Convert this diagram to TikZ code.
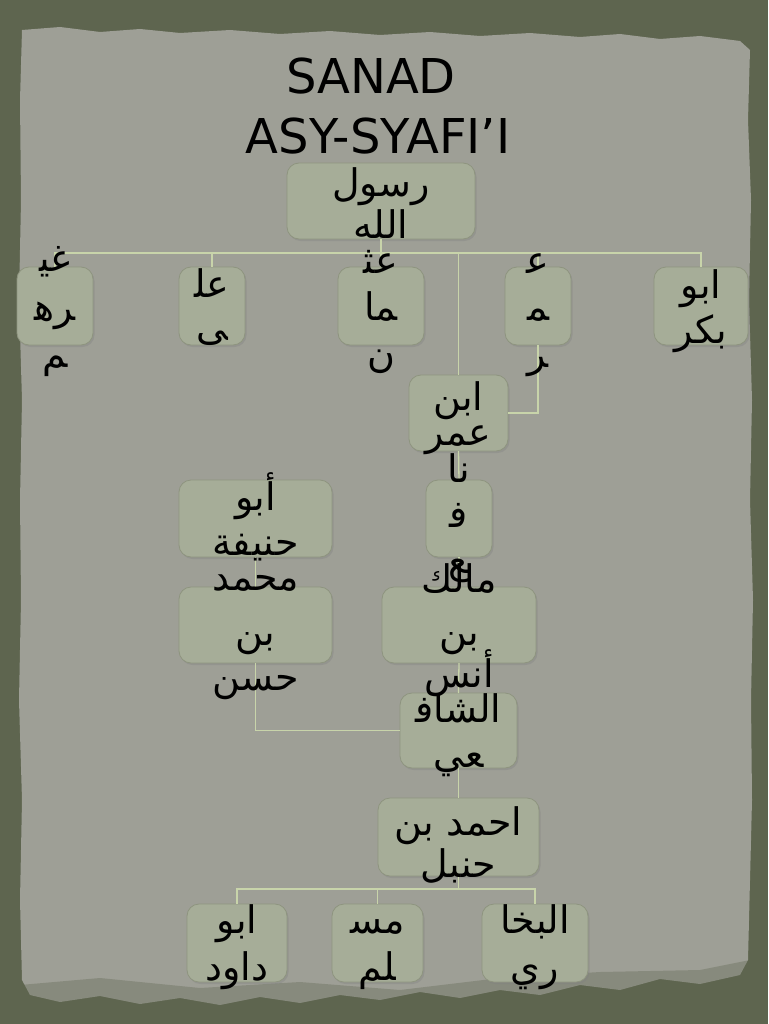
\documentclass[tikz,border=0pt]{standalone}
\usepackage{fontspec}
\setmainfont{DejaVu Sans}
\newfontfamily\arabicfont[Script=Arabic]{DejaVu Sans}
\TeXXeTstate=1
\usetikzlibrary{shadows}
\definecolor{bordergreen}{HTML}{5E654F}
\definecolor{paper}{HTML}{9E9F96}
\definecolor{boxfill}{HTML}{A6AD98}
\definecolor{boxedge}{HTML}{8E947F}
\definecolor{linkcol}{HTML}{C8D4AA}
\newcommand{\ZJ}{^^^^200d}
\tikzset{
  abox/.style={rectangle, rounded corners=12pt, fill=boxfill, draw=boxedge, line width=0.8pt,
    inner sep=0pt, outer sep=0pt,
    drop shadow={opacity=0.35, shadow xshift=1.5pt, shadow yshift=-2pt}},
  atext/.style={font=\arabicfont\fontsize{38}{45}\selectfont, inner sep=0pt, anchor=base, text=black},
  ttext/.style={font=\fontsize{48}{56}\selectfont, inner sep=0pt, anchor=base, text=black},
  link/.style={draw=linkcol, line width=1.3pt}
}
\newcommand{\bx}[5]{\node[abox, minimum width=#4pt, minimum height=#5pt] (#1) at (#2,#3) {};}
\newcommand{\ar}[4]{\node[atext] (#1) at (#2,#3) {\beginR #4\endR};}
\begin{document}
\begin{tikzpicture}[x=1pt,y=-1pt]
\useasboundingbox (0,0) rectangle (768,1024);
\fill[bordergreen] (0,0) rectangle (768,1024);
% torn paper
\fill[paper] (22,30) -- (60,27) -- (100,32) -- (140,29) -- (180,33) -- (230,30) -- (280,34) -- (330,31)
  -- (380,35) -- (430,32) -- (480,36) -- (530,33) -- (580,37) -- (620,34) -- (660,39) -- (700,36)
  -- (740,41) -- (750,50) -- (748,120) -- (751,200) -- (749,300) -- (752,400) -- (750,500)
  -- (753,600) -- (751,700) -- (752,800) -- (750,880) -- (748,960) -- (740,975) -- (700,984)
  -- (660,979) -- (620,990) -- (580,985) -- (540,995) -- (500,990) -- (460,998) -- (420,992)
  -- (380,1000) -- (340,995) -- (300,1003) -- (260,997) -- (220,1005) -- (180,998) -- (140,1004)
  -- (100,996) -- (60,1002) -- (30,995) -- (22,980) -- (20,900) -- (22,800) -- (19,700)
  -- (21,600) -- (20,500) -- (22,400) -- (19,300) -- (21,200) -- (20,100) -- cycle;
\fill[bordergreen, opacity=0.35] (20,985) -- (100,978) -- (200,988) -- (300,982) -- (400,990)
  -- (500,978) -- (600,972) -- (700,970) -- (750,960) -- (752,1010) -- (20,1010) -- cycle;

% title
\node[ttext] (title1) at (371,94) {SANAD};
\node[ttext] (title2) at (378,154) {ASY-SYAFI’I};

% boxes
\bx{rasul}{381}{201}{188}{76}
\bx{ghair}{55}{306}{76}{78}
\bx{ali}{212}{306}{66}{78}
\bx{uthman}{381}{306}{86}{78}
\bx{umar}{538}{306}{66}{78}
\bx{abubakr}{701}{306}{94}{78}
\bx{ibnumar}{458.5}{413}{99}{76}
\bx{abuhanifa}{255.5}{518.5}{153}{77}
\bx{nafi}{459}{518.5}{66}{77}
\bx{muhammad}{255.5}{625}{153}{76}
\bx{malik}{459}{625}{154}{76}
\bx{shafii}{458.5}{730.5}{117}{75}
\bx{ahmad}{458.5}{837}{161}{78}
\bx{abudawud}{237}{943}{100}{78}
\bx{muslim}{377.5}{943}{91}{78}
\bx{bukhari}{535}{943}{106}{78}

% connectors
\coordinate (bus1) at (381,253);
\coordinate (bus2) at (458.5,889);
\draw[link] (rasul.south) -- (bus1);
\draw[link] (bus1) -| (ghair.north);
\draw[link] (bus1) -| (ali.north);
\draw[link] (bus1) -- (uthman.north);
\draw[link] (bus1) -| (umar.north);
\draw[link] (bus1) -| (abubakr.north);
\draw[link] (bus1) -| (ibnumar.north);
\draw[link] (umar.south) |- (ibnumar.east);
\draw[link] (ibnumar.south) -- (nafi.north);
\draw[link] (nafi.south) -- (malik.north);
\draw[link] (abuhanifa.south) -- (muhammad.north);
\draw[link] (muhammad.south) |- (shafii.west);
\draw[link] (malik.south) -- (shafii.north);
\draw[link] (shafii.south) -- (ahmad.north);
\draw[link] (ahmad.south) -- (bus2);
\draw[link] (bus2) -| (abudawud.north);
\draw[link] (bus2) -| (muslim.north);
\draw[link] (bus2) -| (bukhari.north);

% texts
\ar{rasulA}{381}{197}{رسول}
\ar{rasulB}{381}{238}{الله}
\ar{ghairA}{55}{271}{غي\ZJ}
\ar{ghairB}{55}{320}{\ZJ ره\ZJ}
\ar{ghairC}{55}{367}{\ZJ م}
\ar{aliA}{212}{297}{عل\ZJ}
\ar{aliB}{212}{340}{\ZJ ى}
\ar{uthmanA}{381}{273}{عث\ZJ}
\ar{uthmanB}{381}{320}{\ZJ ما}
\ar{uthmanC}{381}{367}{ن}
\ar{umarA}{538}{273}{ع\ZJ}
\ar{umarB}{538}{320}{\ZJ م\ZJ}
\ar{umarC}{538}{367}{\ZJ ر}
\ar{abubakrA}{701}{298}{ابو}
\ar{abubakrB}{701}{343}{بكر}
\ar{ibnumarA}{458.5}{410}{ابن}
\ar{ibnumarB}{458.5}{445}{عمر}
\ar{nafiA}{459}{482}{نا}
\ar{nafiB}{459}{527}{ف\ZJ}
\ar{nafiC}{459}{573}{\ZJ ع}
\ar{abuhanifaA}{255.5}{510}{أبو}
\ar{abuhanifaB}{255.5}{555}{حنيفة}
\ar{muhammadA}{255.5}{590}{محمد}
\ar{muhammadB}{255.5}{645}{بن}
\ar{muhammadC}{255.5}{690}{حسن}
\ar{malikA}{459}{592}{مالك}
\ar{malikB}{459}{645}{بن}
\ar{malikC}{459}{687}{أنس}
\ar{shafiiA}{458.5}{722}{الشاف\ZJ}
\ar{shafiiB}{458.5}{767}{\ZJ عي}
\ar{ahmadA}{458.5}{835}{احمد بن}
\ar{ahmadB}{458.5}{877}{حنبل}
\ar{abudawudA}{237}{933}{ابو}
\ar{abudawudB}{237}{980}{داود}
\ar{muslimA}{377.5}{933}{مس\ZJ}
\ar{muslimB}{377.5}{980}{\ZJ لم}
\ar{bukhariA}{535}{933}{البخا}
\ar{bukhariB}{535}{980}{ري}
\end{tikzpicture}
\end{document}
